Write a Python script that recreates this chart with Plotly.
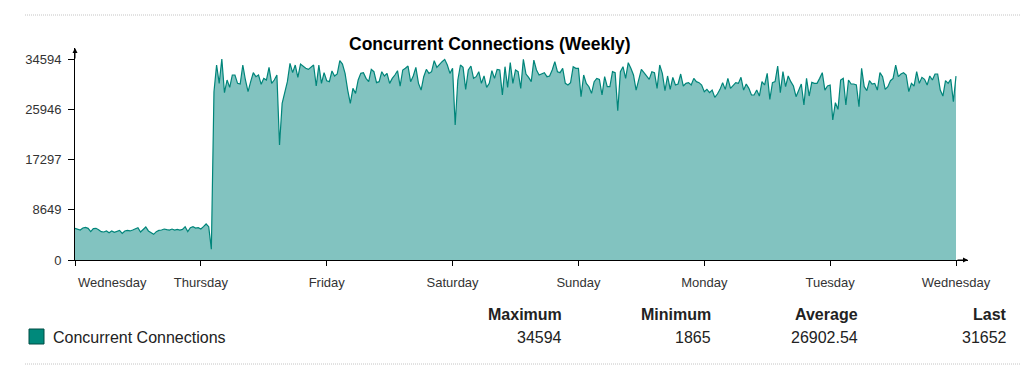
import plotly.graph_objects as go
import pandas as pd

# ---------------- data ----------------
title_text = "Concurrent Connections (Weekly)"
series_name = "Concurrent Connections"
start_time = "2024-01-03 00:00"      # a Wednesday
sample_step = "30min"

values = [
    # Wednesday + early Thursday
    5450, 5270, 5160, 5500, 5620, 5450, 4880, 5390, 5450, 5220,
    4880, 4820, 5000, 4700, 5000, 4760, 4880, 5100, 4590, 5000,
    5100, 5000, 5160, 5390, 5560, 4820, 5270, 5680, 5000, 4760,
    4420, 4880, 5100, 5160, 5330, 5220, 5160, 5330, 5160, 5270,
    5160, 5270, 5740, 4880, 5560, 5740, 5500, 5560, 5330, 5740,
    6200, 5740, 1865,
    28960, 33560, 30400, 34594, 28800, 30980, 29710, 31840, 31840, 30400,
    30290, 33560, 30980, 28970, 30690, 32240, 31550, 31840, 30230, 31260,
    30980, 33160, 30400, 30980, 31840, 19790, 26960, 28970, 30690, 33850,
    32240, 33560, 31440, 33730, 33270, 32990, 32810, 33160, 33560, 29940,
    33560, 30400, 32240, 30860, 30690, 32530, 31670, 32010, 34300, 33730,
    32120, 29250, 26960, 29540, 28680, 30980, 32120,
    32240, 31260, 30690, 32810, 32410, 30520, 30690, 32410, 31670, 32120,
    30400, 31260, 31840, 32580, 29940, 32700, 32990, 33390, 30690, 31670,
    33160, 30400, 29250, 31550, 32810, 32120, 32410, 34300, 33160, 33730,
    34130, 34530, 33560, 32120, 32990, 23230, 30980, 33560, 33160, 29370,
    32700, 33390, 31260, 31550, 32410, 30400, 31670, 29710, 30400, 32580,
    31260, 32810, 32700, 28400, 33270, 29710, 33960, 30400,
    32700, 32410, 29540, 34530, 32010, 31440, 30690, 34400, 32700, 31840,
    32010, 32240, 31550, 31670, 32700, 34130, 32410, 32240, 32990, 30400,
    30120, 30520, 33270, 32990, 32990, 28110, 31840, 30400, 29830, 28680,
    30690, 31260, 31090, 28400, 31550, 29830, 29830, 32410, 32240, 25700,
    32410, 33270, 31260, 33960, 32990, 31840, 29250, 30980, 32810, 32240,
    31670, 31090, 32410, 32240, 29540, 33560, 32120,
    29140, 31670, 29370, 31440, 30120, 30290, 32010, 29940, 30400, 30520,
    30120, 31260, 30690, 30520, 30120, 28970, 29370, 28800, 29250, 27990,
    28570, 29370, 30520, 29370, 31260, 29540, 30120, 30520, 30400, 31440,
    29250, 30290, 29540, 28400, 28400, 29250, 28220, 30690, 30120, 32120,
    27650, 30520, 30690, 33390, 28800, 32410, 29830, 31670, 30690, 29940,
    28110, 29370, 30290, 26670, 31260, 28220,
    30580, 30400, 30400, 31260, 32240, 29250, 29940, 30120, 24090, 27080,
    25930, 30980, 31260, 26670, 30980, 30290, 30290, 30120, 26390, 32990,
    29830, 29140, 30860, 30290, 30400, 29250, 32240, 31550, 29370, 29830,
    30860, 31260, 33560, 31550, 32010, 32240, 31840, 28970, 30400, 29940,
    32410, 30400, 31440, 31090, 30120, 31670, 30980, 32010, 32010, 29250,
    28220, 30860, 30400, 31090, 27250, 31652,
]

y_ticks = [0, 8649, 17297, 25946, 34594]
day_labels = ["Wednesday", "Thursday", "Friday", "Saturday",
              "Sunday", "Monday", "Tuesday", "Wednesday"]
stat_names = ["Maximum", "Minimum", "Average", "Last"]
stat_values = ["34594", "1865", "26902.54", "31652"]

# ---------------- layout helpers (screen pixels) ----------------
OFF = 8                                     # default page body margin
W, H = 1033 - OFF, 388 - OFF
PL, PR, PT, PB = 75, 968, 48, 260           # plot area edges on screen
DATA_RIGHT = 956                            # screen x of the last sample
Y_TOP_PX = 59                               # screen y of top tick value
PW, PH = PR - PL, PB - PT

def px(x):
    return (x - PL) / PW

def py(y):
    return (PB - y) / PH

times = pd.date_range(start_time, periods=len(values), freq=sample_step)
day_ticks = pd.date_range(start_time, periods=len(day_labels), freq="D")
span = times[-1] - times[0]
x_end = times[0] + span * (PW / (DATA_RIGHT - PL))
y_max = y_ticks[-1] * (PB - PT) / (PB - Y_TOP_PX)

FONT = "Liberation Sans, Arial, sans-serif"
LINE_COLOR = "#00857a"
FILL_COLOR = "#82c3c0"
TICK_COLOR = "#333"

fig = go.Figure()
fig.add_trace(go.Scatter(
    x=times, y=values, mode="lines", name=series_name,
    line=dict(color=LINE_COLOR, width=1.2),
    fill="tozeroy", fillcolor=FILL_COLOR,
    showlegend=False, hoverinfo="x+y",
))

fig.update_layout(
    width=W, height=H,
    margin=dict(l=PL - OFF, r=1033 - PR, t=PT - OFF, b=388 - PB, pad=0),
    paper_bgcolor="white", plot_bgcolor="white",
    font=dict(family=FONT, size=13, color=TICK_COLOR),
    showlegend=False,
)

# first day label sits right of its tick (drawn separately below)
x_ticktext = [""] + day_labels[1:]

fig.update_xaxes(
    type="date", range=[times[0], x_end],
    tickmode="array", tickvals=day_ticks, ticktext=x_ticktext,
    ticks="outside", ticklen=5, tickcolor="black", tickwidth=1,
    ticklabelstandoff=5,
    showline=True, linecolor="black", linewidth=1,
    showgrid=False, zeroline=False,
    tickfont=dict(size=13, color=TICK_COLOR, family=FONT),
)
fig.update_yaxes(
    range=[0, y_max],
    tickmode="array", tickvals=y_ticks, ticktext=[str(v) for v in y_ticks],
    ticks="outside", ticklen=6, tickcolor="black", tickwidth=1,
    ticklabelstandoff=4,
    showline=True, linecolor="black", linewidth=1,
    showgrid=False, zeroline=False,
    tickfont=dict(size=13, color=TICK_COLOR, family=FONT),
)

annotations = [
    # axis arrow heads
    dict(x=1, y=0, xref="paper", yref="paper", ax=-12, ay=0, text="",
         showarrow=True, arrowhead=2, arrowsize=1, arrowwidth=1, arrowcolor="black"),
    dict(x=0, y=1, xref="paper", yref="paper", ax=0, ay=12, text="",
         showarrow=True, arrowhead=2, arrowsize=1, arrowwidth=1, arrowcolor="black"),
    # first x tick label
    dict(x=day_ticks[0], y=py(282), xref="x", yref="paper", text=day_labels[0],
         showarrow=False, xanchor="left", yanchor="middle", xshift=1,
         font=dict(size=13, color=TICK_COLOR, family=FONT)),
    # title
    dict(x=px(490), y=py(43.5), xref="paper", yref="paper", text="<b>" + title_text + "</b>",
         showarrow=False, xanchor="center", yanchor="middle",
         font=dict(size=17.5, color="black", family=FONT)),
    # legend label
    dict(x=px(51), y=py(337), xref="paper", yref="paper", text=series_name,
         showarrow=False, xanchor="left", yanchor="middle",
         font=dict(size=16, color="#222", family=FONT)),
]

stat_right = [564, 713, 860, 1009]
for name, val, xr in zip(stat_names, stat_values, stat_right):
    annotations.append(dict(x=px(xr), y=py(314), xref="paper", yref="paper",
                            text="<b>" + name + "</b>", showarrow=False,
                            xanchor="right", yanchor="middle",
                            font=dict(size=16, color="#222", family=FONT)))
    annotations.append(dict(x=px(xr), y=py(337), xref="paper", yref="paper",
                            text=val, showarrow=False,
                            xanchor="right", yanchor="middle",
                            font=dict(size=16, color="#222", family=FONT)))

shapes = [
    dict(type="line", xref="paper", yref="paper", x0=px(25), x1=px(1020),
         y0=py(15), y1=py(15), line=dict(color="#c4c4c4", width=1, dash="1px,1px")),
    dict(type="line", xref="paper", yref="paper", x0=px(25), x1=px(1020),
         y0=py(364), y1=py(364), line=dict(color="#c4c4c4", width=1, dash="1px,1px")),
    dict(type="rect", xref="paper", yref="paper", x0=px(29), x1=px(44),
         y0=py(344), y1=py(329), fillcolor="#00897b",
         line=dict(color="#004d45", width=1)),
]

fig.update_layout(annotations=annotations, shapes=shapes)

fig.write_html("out.html")
